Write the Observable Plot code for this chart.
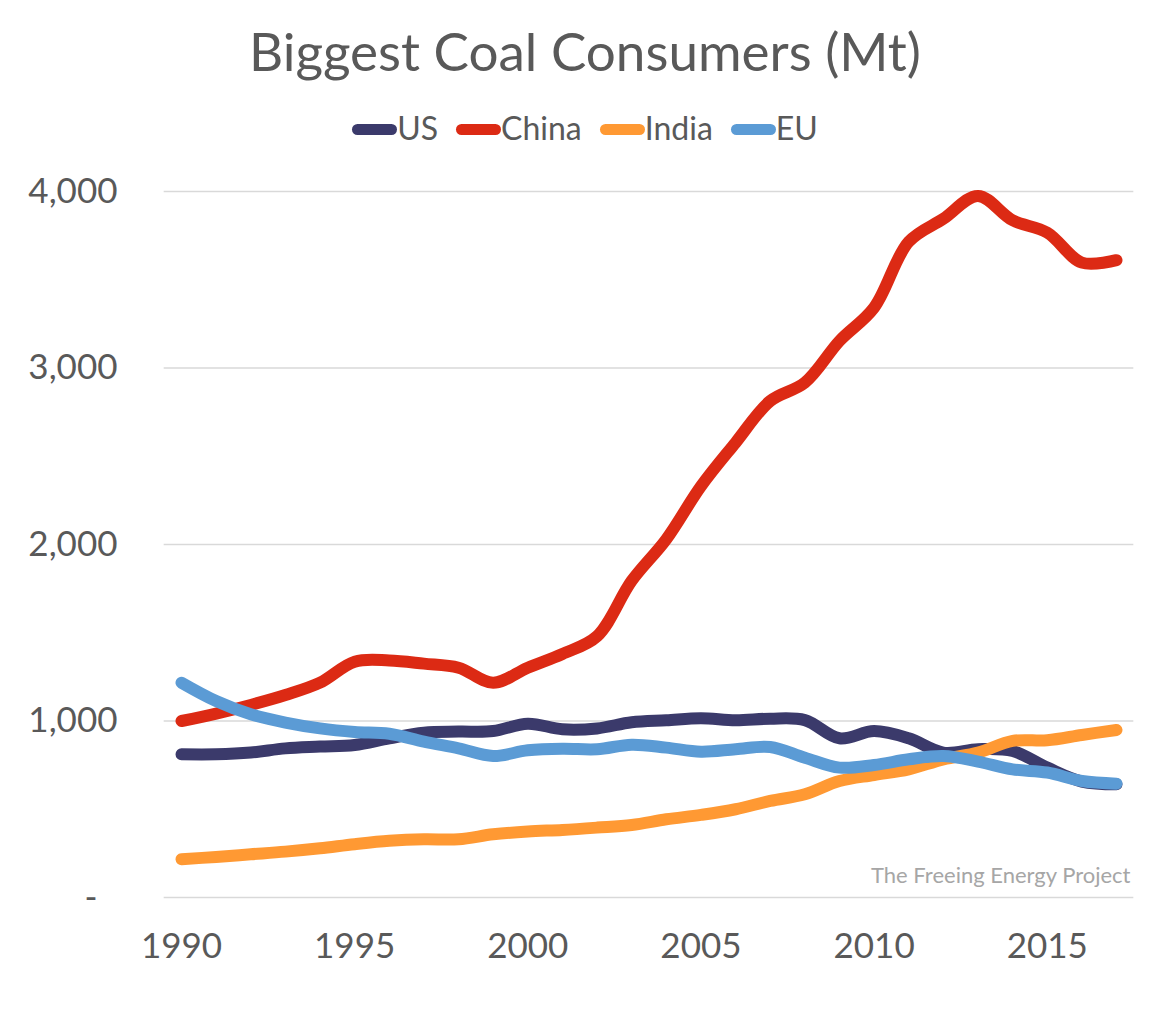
<!DOCTYPE html>
<html>
<head>
<meta charset="utf-8">
<script src="https://cdn.jsdelivr.net/npm/d3@7"></script>
<script src="https://cdn.jsdelivr.net/npm/@observablehq/plot@0.6"></script>
<style>
  html, body { margin: 0; padding: 0; background: #fff; }
  body { width: 1170px; height: 1028px; overflow: hidden; font-family: Lato, "Open Sans", sans-serif; color: #595959; }
  #title { height: 100px; box-sizing: border-box; padding-top: 24px; text-align: center; font-size: 53px; line-height: 54px; color: #595959; }
  #legend { height: 60px; display: flex; justify-content: center; align-items: flex-start; padding-top: 10px; box-sizing: border-box; font-size: 32px; line-height: 36px; }
  .item { display: flex; align-items: center; margin: 0 9px; }
  .sw { width: 45px; height: 11px; border-radius: 6px; margin-top: 2px; }
</style>
</head>
<body>
<div id="title">Biggest Coal Consumers (Mt)</div>
<div id="legend"></div>
<div id="chart"></div>
<script>
const years = d3.range(1990, 2018);
const series = ["US", "China", "India", "EU"];
const colors = ["#3b3a6b", "#dc2a14", "#ff9933", "#5b9bd5"];
const us    = [811, 811, 821, 845, 855, 864, 902, 934, 940, 943, 985, 953, 958, 993, 1004, 1015, 1004, 1013, 1005, 902, 943, 902, 821, 840, 830, 736, 657, 642];
const china = [1000, 1042, 1091, 1147, 1217, 1336, 1343, 1325, 1302, 1217, 1302, 1380, 1480, 1794, 2030, 2330, 2577, 2813, 2917, 3153, 3342, 3715, 3845, 3975, 3837, 3767, 3597, 3611];
const india = [217, 230, 245, 260, 279, 302, 321, 330, 330, 358, 374, 383, 396, 411, 443, 468, 500, 547, 585, 660, 694, 726, 783, 821, 887, 891, 921, 949];
const eu    = [1217, 1113, 1038, 991, 958, 938, 928, 883, 845, 802, 834, 843, 840, 866, 849, 826, 840, 853, 792, 736, 751, 783, 802, 770, 726, 708, 660, 645];
const yTicks = [1000, 2000, 3000, 4000];
const xTicks = [1990, 1995, 2000, 2005, 2010, 2015];
const source = "The Freeing Energy Project";

const valuesBySeries = {US: us, China: china, India: india, EU: eu};
const data = series.flatMap(s => years.map((yr, i) => ({series: s, year: yr, value: valuesBySeries[s][i]})));

// legend
const leg = document.getElementById("legend");
series.forEach((s, i) => {
  const it = document.createElement("div");
  it.className = "item";
  it.innerHTML = `<span class="sw" style="background:${colors[i]}"></span><span>${s}</span>`;
  leg.appendChild(it);
});

const chart = Plot.plot({
  width: 1170,
  height: 868,
  marginTop: 31,
  marginBottom: 131,
  marginLeft: 181,
  marginRight: 54,
  style: {fontFamily: "Lato, 'Open Sans', sans-serif", fontSize: "35px", color: "#595959", background: "#fff", overflow: "visible"},
  x: {domain: [1990, 2017]},
  y: {domain: [0, 4000]},
  color: {domain: series, range: colors},
  marks: [
    Plot.ruleY([0, ...yTicks], {x1: 1989.5, x2: 2017.5, stroke: "#d9d9d9", strokeWidth: 1.5}),
    Plot.axisY(yTicks, {tickSize: 0, tickPadding: 64, tickFormat: d3.format(","), label: null, fill: "#595959"}),
    Plot.axisY([0], {tickSize: 0, tickPadding: 84, tickFormat: () => "-", label: null, fill: "#595959"}),
    Plot.axisX(xTicks, {tickSize: 0, tickPadding: 36, tickFormat: d => String(d), label: null, fill: "#595959"}),
    Plot.line(data, {x: "year", y: "value", stroke: "series", z: "series", curve: "catmull-rom", strokeWidth: 12, strokeLinecap: "round", strokeLinejoin: "round"}),
    Plot.text([source], {frameAnchor: "bottom-right", dx: 14, dy: -15, textAnchor: "end", lineAnchor: "bottom", fill: "#a6a6a6", fontSize: 22})
  ]
});
document.getElementById("chart").appendChild(chart);
</script>
</body>
</html>
